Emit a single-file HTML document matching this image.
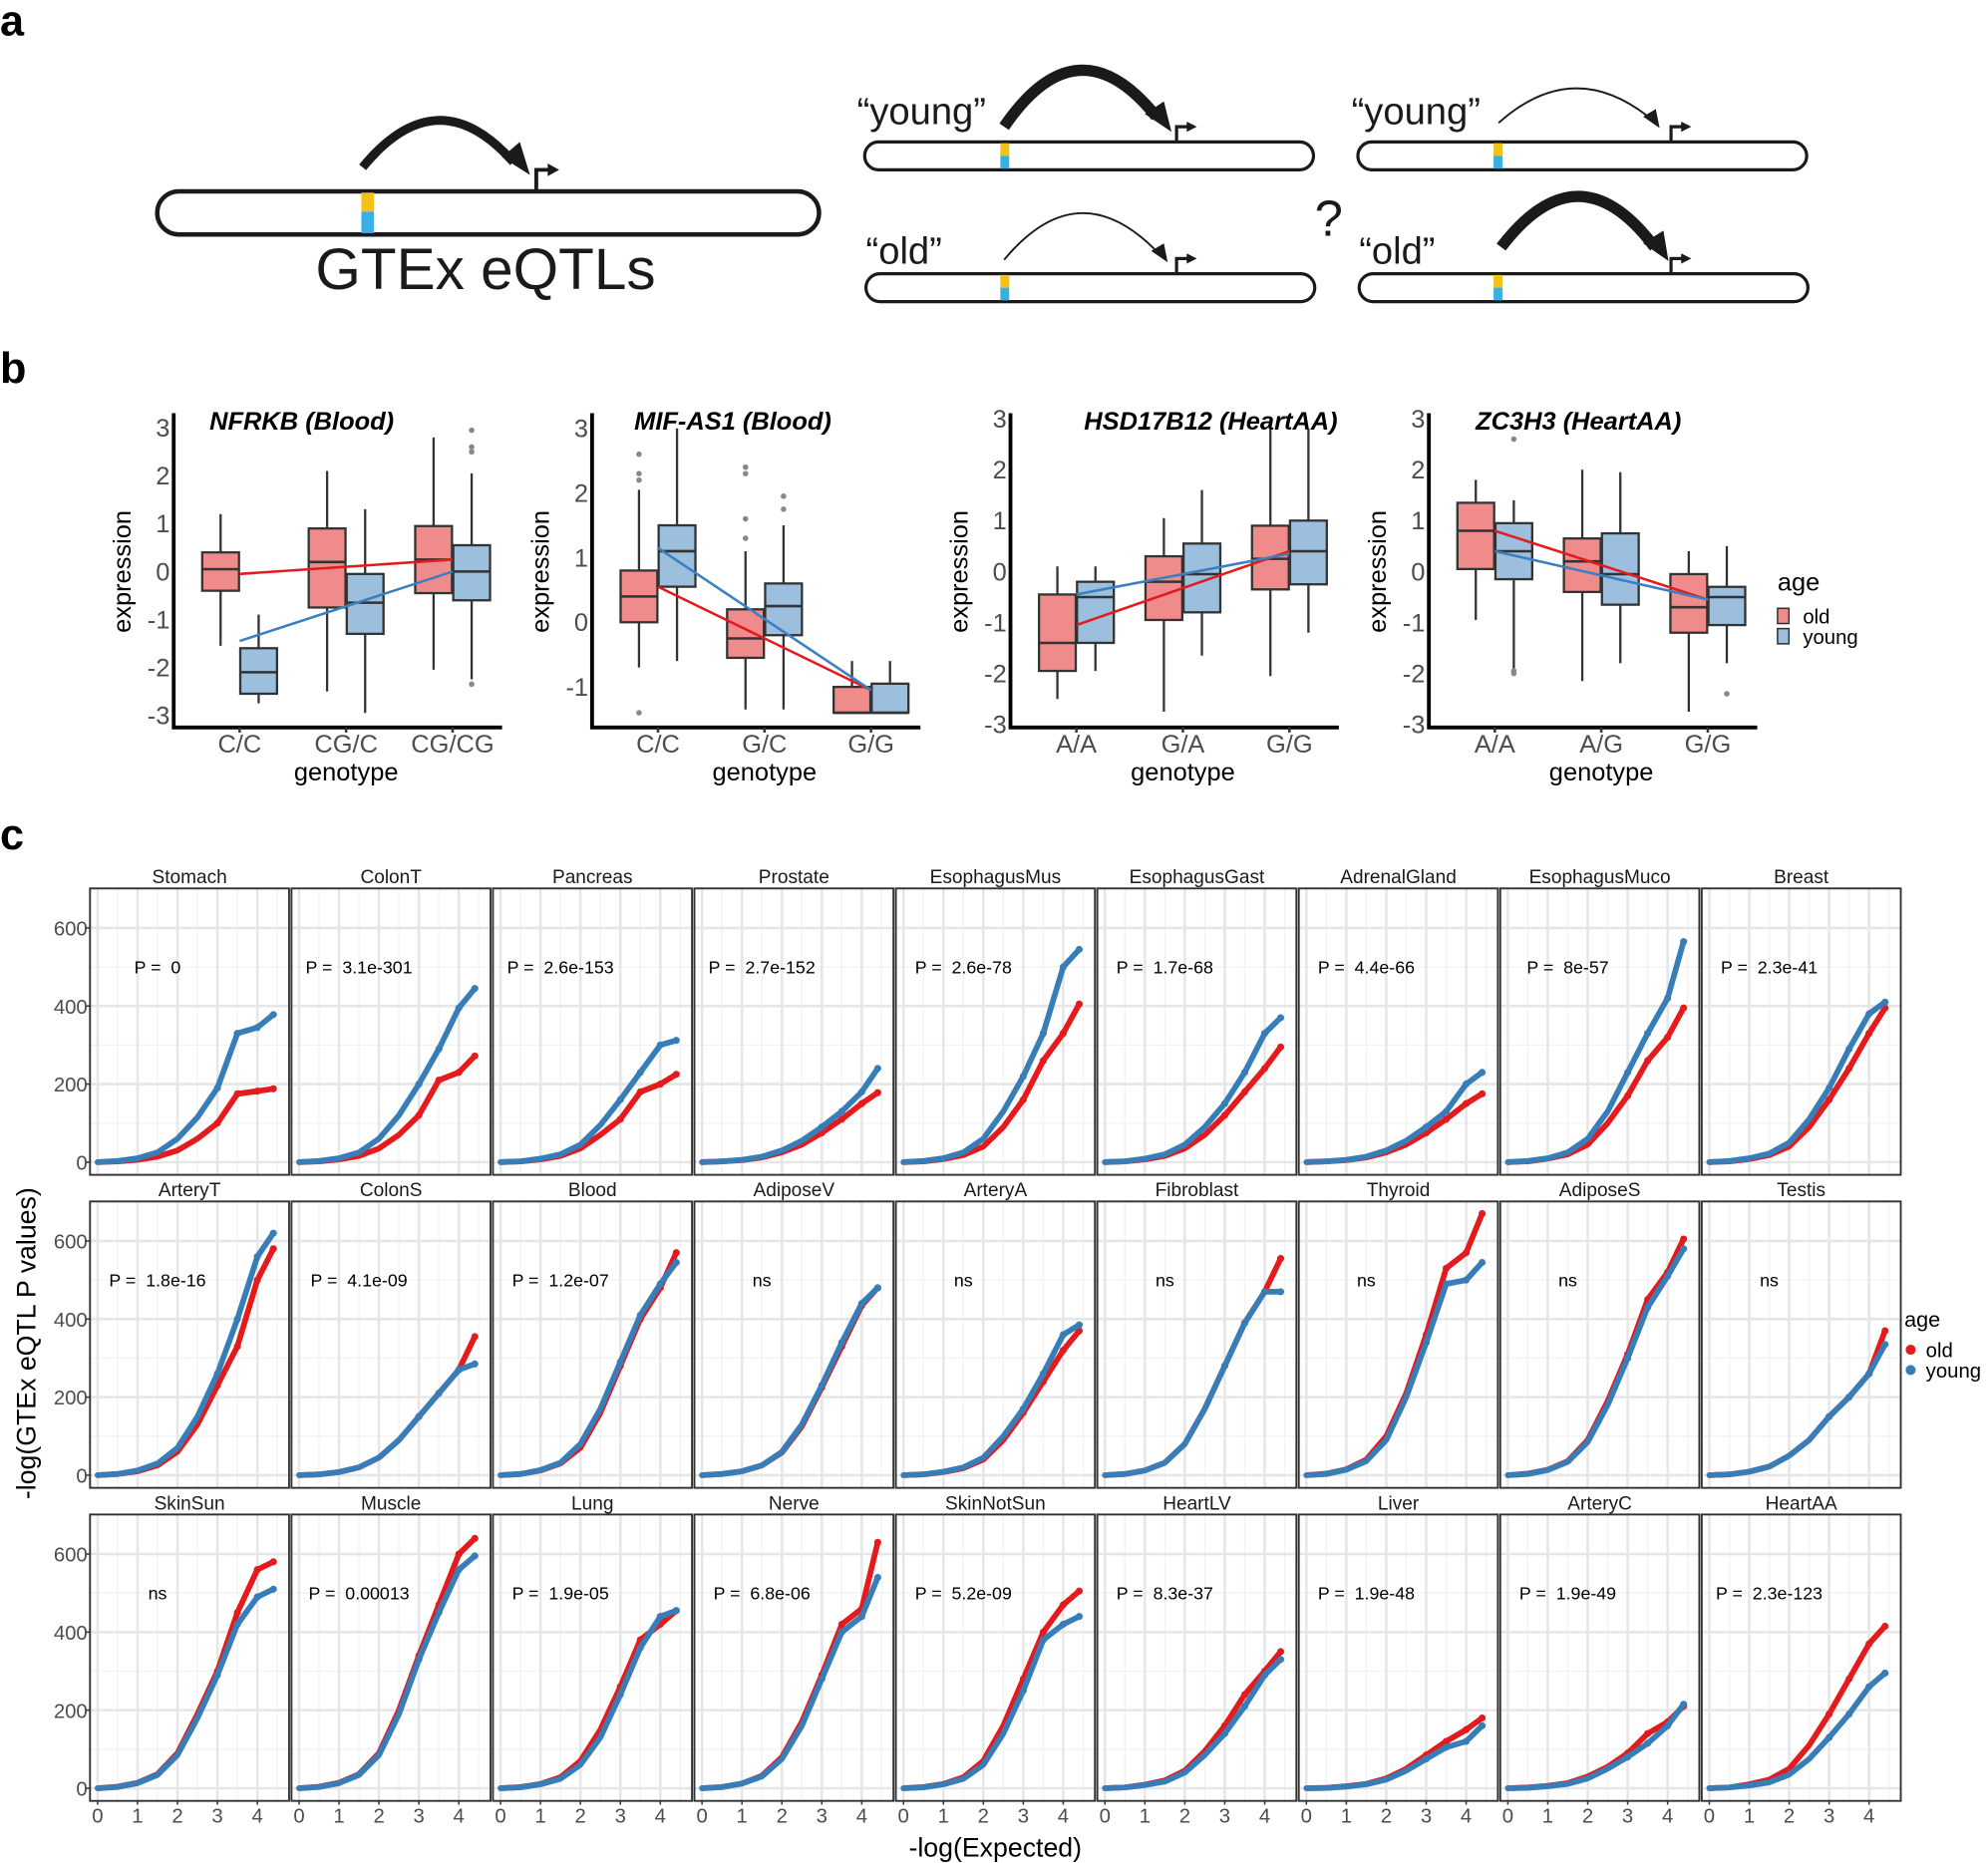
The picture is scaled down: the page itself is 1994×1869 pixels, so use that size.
<!DOCTYPE html>
<html><head><meta charset="utf-8"><style>
html,body{margin:0;padding:0;background:#fff}
svg{display:block;font-family:"Liberation Sans",Arial,sans-serif}
.pre{white-space:pre}
</style></head><body>
<svg id="fig" width="1994" height="1869" viewBox="0 0 1568 1470" preserveAspectRatio="none" xmlns="http://www.w3.org/2000/svg">
<rect width="1568" height="1470" fill="#fff"/>
<g>
<text x="0" y="28" font-size="34" font-weight="bold">a</text>
<rect x="124" y="151" width="522" height="34" rx="17" fill="none" stroke="#1a1a1a" stroke-width="3.5"/>
<rect x="285" y="152" width="10" height="15" fill="#f2c218"/><rect x="285" y="167" width="10" height="17" fill="#38b0e3"/>
<path d="M286,132 Q345,60 405,128" fill="none" stroke="#1a1a1a" stroke-width="7"/>
<polygon points="396,124 418,138 410,112" fill="#1a1a1a"/>
<path d="M423,150 V134 H434" fill="none" stroke="#1a1a1a" stroke-width="3"/><polygon points="432,129 441,134 432,139" fill="#1a1a1a"/>
<text x="383" y="228" font-size="46" text-anchor="middle" fill="#1a1a1a">GTEx eQTLs</text>

<text x="676" y="98" font-size="30" fill="#1a1a1a">“young”</text>
<rect x="682" y="112" width="354" height="22" rx="11" fill="none" stroke="#1a1a1a" stroke-width="2.5"/>
<rect x="789" y="113" width="7" height="10" fill="#f2c218"/><rect x="789" y="123" width="7" height="10" fill="#38b0e3"/>
<path d="M792,100 Q850,15 912,92" fill="none" stroke="#1a1a1a" stroke-width="9"/><polygon points="903,90 924,104 918,80" fill="#1a1a1a"/>
<path d="M928,111 V100 H938" fill="none" stroke="#1a1a1a" stroke-width="2.5"/><polygon points="936,96 944,100 936,104" fill="#1a1a1a"/>

<text x="683" y="208" font-size="30" fill="#1a1a1a">“old”</text>
<rect x="683" y="216" width="354" height="22" rx="11" fill="none" stroke="#1a1a1a" stroke-width="2.5"/>
<rect x="789" y="217" width="7" height="10" fill="#f2c218"/><rect x="789" y="227" width="7" height="10" fill="#38b0e3"/>
<path d="M792,205 Q850,135 912,198" fill="none" stroke="#1a1a1a" stroke-width="1.5"/><polygon points="908,198 921,207 918,192" fill="#1a1a1a"/>
<path d="M928,215 V204 H938" fill="none" stroke="#1a1a1a" stroke-width="2.5"/><polygon points="936,200 944,204 936,208" fill="#1a1a1a"/>

<text x="1048" y="186" font-size="40" text-anchor="middle" fill="#1a1a1a">?</text>

<text x="1066" y="98" font-size="30" fill="#1a1a1a">“young”</text>
<rect x="1071" y="112" width="354" height="22" rx="11" fill="none" stroke="#1a1a1a" stroke-width="2.5"/>
<rect x="1178" y="113" width="7" height="10" fill="#f2c218"/><rect x="1178" y="123" width="7" height="10" fill="#38b0e3"/>
<path d="M1182,97 Q1240,45 1300,92" fill="none" stroke="#1a1a1a" stroke-width="1.5"/><polygon points="1296,92 1309,101 1306,86" fill="#1a1a1a"/>
<path d="M1318,111 V100 H1328" fill="none" stroke="#1a1a1a" stroke-width="2.5"/><polygon points="1326,96 1334,100 1326,104" fill="#1a1a1a"/>

<text x="1072" y="208" font-size="30" fill="#1a1a1a">“old”</text>
<rect x="1072" y="216" width="354" height="22" rx="11" fill="none" stroke="#1a1a1a" stroke-width="2.5"/>
<rect x="1178" y="217" width="7" height="10" fill="#f2c218"/><rect x="1178" y="227" width="7" height="10" fill="#38b0e3"/>
<path d="M1184,195 Q1245,115 1305,195" fill="none" stroke="#1a1a1a" stroke-width="9"/><polygon points="1296,192 1316,206 1312,182" fill="#1a1a1a"/>
<path d="M1318,215 V204 H1328" fill="none" stroke="#1a1a1a" stroke-width="2.5"/><polygon points="1326,200 1334,204 1326,208" fill="#1a1a1a"/>
</g>
<text x="0" y="302" font-size="34" font-weight="bold">b</text>
<text x="0" y="670" font-size="34" font-weight="bold">c</text>
<g id="pb"></g>
<g id="pc"></g>
</svg>
<script>
const NS='http://www.w3.org/2000/svg';
function mk(parent,tag,attrs,txt){const e=document.createElementNS(NS,tag);for(const k in attrs)e.setAttribute(k,attrs[k]);if(txt!==undefined)e.textContent=txt;parent.appendChild(e);return e;}

const boxTitles=['NFRKB (Blood)','MIF-AS1 (Blood)','HSD17B12 (HeartAA)','ZC3H3 (HeartAA)'];
const boxCats=[['C/C','CG/C','CG/CG'],['C/C','G/C','G/G'],['A/A','G/A','G/G'],['A/A','A/G','G/G']];
const boxTicks=[[3,2,1,0,-1,-2,-3],[3,2,1,0,-1],[3,2,1,0,-1,-2,-3],[3,2,1,0,-1,-2,-3]];
const boxOld=[
 [[-0.4,0.05,0.4,-1.55,1.2],[-0.75,0.2,0.9,-2.5,2.1],[-0.45,0.25,0.95,-2.05,2.8]],
 [[0,0.4,0.8,-0.7,2.05],[-0.55,-0.25,0.2,-1.35,1.1],[-1.4,-1.4,-1.0,-1.4,-0.6]],
 [[-1.95,-1.4,-0.45,-2.5,0.1],[-0.95,-0.2,0.3,-2.75,1.05],[-0.35,0.25,0.9,-2.05,2.95]],
 [[0.05,0.8,1.35,-0.95,1.8],[-0.4,0.2,0.65,-2.15,2.0],[-1.2,-0.7,-0.05,-2.75,0.4]]];
const boxYoung=[
 [[-2.55,-2.1,-1.6,-2.75,-0.9],[-1.3,-0.65,-0.05,-2.95,1.3],[-0.6,0,0.55,-2.25,2.05]],
 [[0.55,1.1,1.5,-0.6,3.0],[-0.2,0.25,0.6,-1.35,1.5],[-1.4,-1.4,-0.95,-1.4,-0.6]],
 [[-1.4,-0.5,-0.2,-1.95,0.1],[-0.8,-0.05,0.55,-1.65,1.6],[-0.25,0.4,1.0,-1.2,2.8]],
 [[-0.15,0.4,0.95,-1.9,1.4],[-0.65,-0.05,0.75,-1.8,1.95],[-1.05,-0.5,-0.3,-1.8,0.5]]];
const outOld=[[[],[],[]],[[2.6,2.3,2.2,-1.4],[2.4,2.3,1.6,1.3],[]],[[],[],[]],[[],[],[]]];
const outYoung=[[[],[],[2.95,2.6,2.5,-2.35]],[[],[1.95,1.75],[]],[[],[],[]],[[2.6,-1.95,-2.0],[],[-2.4]]];
const trendOld=[[-0.05,0.25],[0.55,-1.05],[-1.05,0.4],[0.8,-0.55]];
const trendYoung=[[-1.45,0.0],[1.15,-1.05],[-0.45,0.35],[0.4,-0.55]];

const pb=document.getElementById('pb');
const axL=[137,467,797,1127], zeroY=[451,491,451,451], unitY=[37.8,51,40.2,40.2], titleOff=[101,111,158,118];
for(let p=0;p<4;p++){
  const g=mk(pb,'g',{});
  
  
  const L=axL[p], bottom=574;
  const ys=v=>zeroY[p]-v*unitY[p];
  const xs=i=>L+52+i*84;
  boxTicks[p].forEach(t=>{const tl=mk(g,'text',{x:L-3,y:ys(t)+7,'font-size':20,'text-anchor':'end',fill:'#4d4d4d'},String(t));
    });
  mk(g,'rect',{x:L-3,y:318,width:7,height:258,fill:'#fff'});
  const draw=(cat,off,st,fill,outs)=>{
    const cx=xs(cat)+off;
    mk(g,'line',{x1:cx,x2:cx,y1:ys(st[3]),y2:ys(st[4]),stroke:'#333',"stroke-width":1.8});
    const r=mk(g,'rect',{x:cx-14.5,y:ys(st[2]),width:29,height:Math.max(ys(st[0])-ys(st[2]),1),fill:fill,stroke:'#333','stroke-width':1.8});
    
    mk(g,'line',{x1:cx-14.5,x2:cx+14.5,y1:ys(st[1]),y2:ys(st[1]),stroke:'#333','stroke-width':2});
    outs.forEach(o=>mk(g,'circle',{cx:cx,cy:ys(o),r:2.2,fill:'#888'}));
  };
  for(let c=0;c<3;c++){draw(c,-15,boxOld[p][c],'#f08b8b',outOld[p][c]);draw(c,15,boxYoung[p][c],'#9bbfdd',outYoung[p][c]);}
  mk(g,'line',{x1:xs(0),x2:xs(2),y1:ys(trendOld[p][0]),y2:ys(trendOld[p][1]),stroke:'#e41a1c','stroke-width':2});
  mk(g,'line',{x1:xs(0),x2:xs(2),y1:ys(trendYoung[p][0]),y2:ys(trendYoung[p][1]),stroke:'#3a7fc0','stroke-width':2});
  mk(g,'path',{d:`M${L},326 V${bottom} H${L+259}`,fill:'none',stroke:'#000','stroke-width':3});
  for(let c=0;c<3;c++){mk(g,'line',{x1:xs(c),x2:xs(c),y1:bottom,y2:bottom+4,stroke:'#333','stroke-width':2});
    const t=mk(g,'text',{x:xs(c),y:594,'font-size':20,'text-anchor':'middle',fill:'#4d4d4d'},boxCats[p][c]);
    }
  const xt=mk(g,'text',{x:L+136,y:616,'font-size':20,'text-anchor':'middle',fill:'#000'},'genotype');
  
  const yt=mk(g,'text',{x:0,y:0,'font-size':20,'text-anchor':'middle',fill:'#000',transform:`translate(${L-34},451) rotate(-90)`},'expression');
  
  const tt=mk(g,'text',{x:L+titleOff[p],y:339,'font-size':20,'font-weight':'bold','font-style':'italic','text-anchor':'middle'},boxTitles[p]);
  
}
{
 const lg=mk(pb,'g',{});
 mk(lg,'text',{x:1402,y:466,'font-size':20},'age');
 mk(lg,'rect',{x:1402,y:480,width:9,height:12,fill:'#f08b8b',stroke:'#333','stroke-width':1.2});
 mk(lg,'rect',{x:1402,y:496,width:9,height:12,fill:'#9bbfdd',stroke:'#333','stroke-width':1.2});
 mk(lg,'text',{x:1422,y:492,'font-size':16},'old');
 mk(lg,'text',{x:1422,y:508,'font-size':16},'young');
}

const tissues=['Stomach','ColonT','Pancreas','Prostate','EsophagusMus','EsophagusGast','AdrenalGland','EsophagusMuco','Breast',
 'ArteryT','ColonS','Blood','AdiposeV','ArteryA','Fibroblast','Thyroid','AdiposeS','Testis',
 'SkinSun','Muscle','Lung','Nerve','SkinNotSun','HeartLV','Liver','ArteryC','HeartAA'];
const pLabels=['P =  0','P =  3.1e-301','P =  2.6e-153','P =  2.7e-152','P =  2.6e-78','P =  1.7e-68','P =  4.4e-66','P =  8e-57','P =  2.3e-41',
 'P =  1.8e-16','P =  4.1e-09','P =  1.2e-07','ns','ns','ns','ns','ns','ns',
 'ns','P =  0.00013','P =  1.9e-05','P =  6.8e-06','P =  5.2e-09','P =  8.3e-37','P =  1.9e-48','P =  1.9e-49','P =  2.3e-123'];
const qqX=[0,0.5,1,1.5,2,2.5,3,3.5,4,4.4];
const qqOld=[
 [0,2,6,14,30,60,100,175,182,188],[0,2,7,16,35,70,120,210,230,272],[0,2,7,16,35,70,110,180,200,225],
 [0,2,5,12,25,45,75,110,150,178],[0,2,8,18,40,90,160,260,330,405],[0,2,7,16,35,70,120,180,240,295],
 [0,2,5,12,25,45,75,110,150,175],[0,2,9,20,45,100,170,260,320,395],[0,2,8,18,40,90,160,240,330,395],
 [0,3,10,25,60,130,230,330,500,580],[0,2,8,20,45,90,150,210,270,355],[0,3,12,30,70,160,280,400,480,570],
 [0,3,10,25,58,125,225,330,435,480],[0,2,8,18,40,90,160,240,320,370],[0,3,12,32,80,170,280,390,470,555],
 [0,4,15,40,100,210,360,530,570,670],[0,4,14,36,90,190,310,450,520,605],[0,2,9,22,50,90,150,200,260,370],
 [0,4,14,36,90,190,300,450,560,580],[0,4,14,36,90,200,340,470,600,640],[0,3,11,28,70,150,260,380,420,455],
 [0,3,12,32,80,170,290,420,460,630],[0,3,11,28,70,160,280,400,470,505],[0,2,9,20,45,95,160,240,300,350],
 [0,1,5,11,25,50,85,120,150,180],[0,2,6,13,30,55,90,140,170,210],[0,2,10,22,50,110,190,280,370,415]];
const qqYoung=[
 [0,3,10,25,60,115,190,330,345,378],[0,3,10,25,60,120,200,290,395,445],[0,2,9,20,45,95,160,230,300,312],
 [0,2,6,14,30,55,90,130,180,240],[0,3,10,25,60,130,220,330,500,545],[0,2,9,20,45,90,150,230,330,370],
 [0,2,6,14,30,55,90,130,200,230],[0,3,10,25,60,130,230,330,420,565],[0,3,10,22,50,110,190,290,380,410],
 [0,3,12,30,70,150,260,400,560,620],[0,2,8,20,45,90,150,210,270,285],[0,3,13,32,80,170,290,410,490,545],
 [0,3,10,25,60,130,230,340,440,480],[0,2,9,20,45,100,170,260,360,385],[0,3,12,32,80,170,280,390,470,470],
 [0,3,14,36,90,200,340,490,500,545],[0,3,13,34,85,180,300,430,510,580],[0,2,9,22,50,90,150,200,260,335],
 [0,3,13,34,85,180,290,420,490,510],[0,3,13,34,85,190,330,450,560,595],[0,2,10,24,60,130,240,360,440,455],
 [0,3,12,30,75,160,280,400,440,540],[0,2,10,24,60,140,250,380,420,440],[0,2,8,17,40,85,140,210,290,330],
 [0,1,4,10,22,45,75,105,120,160],[0,1,5,11,25,50,80,115,160,215],[0,2,7,15,35,75,130,190,260,295]];
const yTicks=[0,200,400,600];
const xTicks=[0,1,2,3,4];

const pc=document.getElementById('pc');
const panelX0=71, panelStep=158.9, panelW=157, panelH=226, rowTop0=701, rowStep=247;
for(let i=0;i<27;i++){
  const r=Math.floor(i/9), c=i%9;
  const X0=panelX0+c*panelStep, T=rowTop0+r*rowStep, base=T+216;
  const sx=v=>X0+6+v*31.5, sy=v=>base-v*0.308;
  const g=mk(pc,'g',{});
  
  
  mk(g,'rect',{x:X0,y:T,width:panelW,height:panelH,fill:'#fff'});
  for(let v=0.5;v<4.8;v+=1)mk(g,'line',{x1:sx(v),x2:sx(v),y1:T,y2:T+panelH,stroke:'#f2f2f2','stroke-width':1});
  for(let v=100;v<=700;v+=200)mk(g,'line',{x1:X0,x2:X0+panelW,y1:sy(v),y2:sy(v),stroke:'#f2f2f2','stroke-width':1});
  xTicks.forEach(v=>mk(g,'line',{x1:sx(v),x2:sx(v),y1:T,y2:T+panelH,stroke:'#e6e6e6','stroke-width':2}));
  yTicks.forEach(v=>mk(g,'line',{x1:X0,x2:X0+panelW,y1:sy(v),y2:sy(v),stroke:'#e6e6e6','stroke-width':2}));
  const series=(vals,col,nm)=>{
    const pts=qqX.map((x,k)=>sx(x)+','+sy(vals[k])).join(' ');
    const pl=mk(g,'polyline',{points:pts,fill:'none',stroke:col,'stroke-width':4.5,'stroke-linejoin':'round','stroke-linecap':'round'});
    
    
    qqX.forEach((x,k)=>{if(k>=6)mk(g,'circle',{cx:sx(x),cy:sy(vals[k]),r:2.8,fill:col});});
  };
  series(qqOld[i],'#e41a1c','series-old');
  series(qqYoung[i],'#377eb8','series-young');
  mk(g,'rect',{x:X0,y:T,width:panelW,height:panelH,fill:'none',stroke:'#333','stroke-width':1.5});
  const st=mk(g,'text',{x:X0+panelW/2,y:T-4,'font-size':15,'text-anchor':'middle',fill:'#1a1a1a'},tissues[i]);
  
  const pt=mk(g,'text',{x:sx(1.5),y:sy(500)+5,'font-size':14,'text-anchor':'middle',fill:'#000','class':'pre'},pLabels[i]);
  
  if(c===0)yTicks.forEach(v=>{mk(g,'line',{x1:X0-3,x2:X0,y1:sy(v),y2:sy(v),stroke:'#333','stroke-width':1.2});
    const t=mk(g,'text',{x:X0-2,y:sy(v)+6,'font-size':16,'text-anchor':'end',fill:'#4d4d4d'},String(v));
    });
  if(r===2)xTicks.forEach(v=>{mk(g,'line',{x1:sx(v),x2:sx(v),y1:T+panelH,y2:T+panelH+3,stroke:'#333','stroke-width':1.2});
    const t=mk(g,'text',{x:sx(v),y:T+panelH+17,'font-size':16,'text-anchor':'middle',fill:'#4d4d4d'},String(v));
    });
}
{
 const yt=mk(pc,'text',{x:0,y:0,'font-size':21,'text-anchor':'middle',transform:'translate(28,1060) rotate(-90)'},'-log(GTEx eQTL P values)');
 
 const xt=mk(pc,'text',{x:785,y:1465,'font-size':21,'text-anchor':'middle'},'-log(Expected)');
 
 const lg=mk(pc,'g',{});
 mk(lg,'text',{x:1502,y:1047,'font-size':17},'age');
 mk(lg,'circle',{cx:1507,cy:1065,r:4,fill:'#e41a1c'});
 mk(lg,'circle',{cx:1507,cy:1081,r:4,fill:'#377eb8'});
 mk(lg,'text',{x:1519,y:1071,'font-size':16},'old');
 mk(lg,'text',{x:1519,y:1087,'font-size':16},'young');
}
</script>
</body></html>
